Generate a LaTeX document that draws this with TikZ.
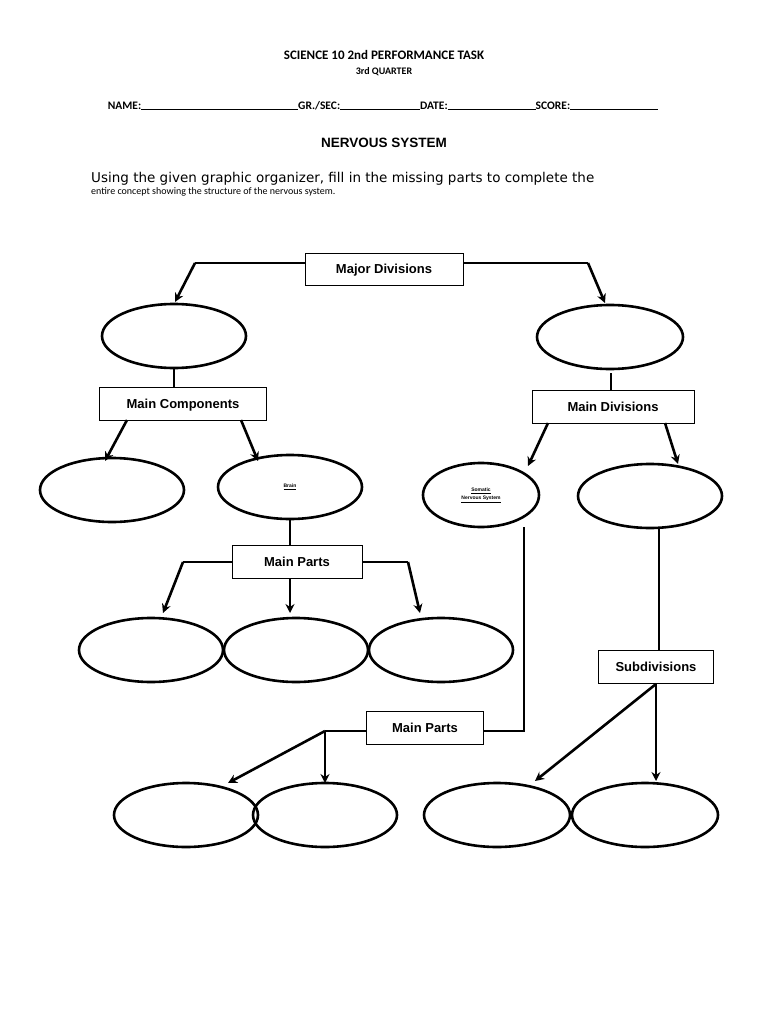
\documentclass[tikz,border=0pt]{standalone}
\usepackage{fontspec}
\setmainfont{Carlito}
\newfontfamily\dv{DejaVu Sans}
\newfontfamily\ls{Liberation Sans}
\usetikzlibrary{shapes.geometric,arrows.meta}
\begin{document}
\begin{tikzpicture}[x=1pt,y=-1pt,
 ov/.style={draw,ellipse,line width=2.6pt,minimum width=144pt,minimum height=64pt,inner sep=0pt,font=\ls\bfseries\tiny,align=center},
 bx/.style={draw,line width=0.6pt,font=\ls\bfseries\fontsize{13}{15}\selectfont,inner sep=0pt,text depth=0pt},
 ln/.style={line width=2.6pt},
 ar/.style={line width=2.6pt,-{Stealth[length=9pt,width=9pt]}}]
\useasboundingbox (0,0) rectangle (768,1024);
\node (t1) at (384,55) {\bfseries\fontsize{13}{15}\selectfont SCIENCE 10 2nd PERFORMANCE TASK};
\node (t2) at (384,72) {\bfseries\fontsize{10}{12}\selectfont 3rd QUARTER};
\node (t3) at (383,106) {\bfseries\fontsize{11.5}{13}\selectfont NAME:\rule{157pt}{0.5pt}GR./SEC:\rule{80pt}{0.5pt}DATE:\rule{88pt}{0.5pt}SCORE:\rule{88pt}{0.5pt}};
\node (t4) at (384,143) {\ls\bfseries\fontsize{13.5}{16}\selectfont NERVOUS SYSTEM};
\node[anchor=north west,align=left,inner sep=0pt] (t5) at (91,172) {\dv\fontsize{13.5}{19.5}\selectfont Using the given graphic organizer, fill in the missing parts to complete the\\ entire concept showing the structure of the nervous system.};

\node[bx,minimum width=158pt,minimum height=32pt] (md) at (384,269) {Major Divisions};
\node[ov] (l1) at (174,336) {};
\node[ov,minimum width=146pt] (r1) at (610,337) {};
\coordinate (mdl) at (195,263); \coordinate (mdr) at (588,263);
\draw[ln] (md.west|-mdl) -- (mdl);
\draw[ar] (mdl) -- (175,302);
\draw[ln] (md.east|-mdr) -- (mdr);
\draw[ar] (mdr) -- (605,303);

\node[bx,minimum width=167pt,minimum height=33pt] (mc) at (183,404) {Main Components};
\draw[ln] (174,368) -- (174,387.5);
\node[ov] (l2a) at (112,490) {};
\node[ov] (brain) at (290,487) {\underline{Brain}};
\draw[ar] (127,420) -- (105,461);
\draw[ar] (241,420) -- (258,461);

\node[bx,minimum width=162pt,minimum height=33pt] (mdv) at (613,407) {Main Divisions};
\draw[ln] (611,373) -- (611,390.5);
\node[ov,minimum width=116pt] (som) at (481,495) {\underline{Somatic}\\[2pt]\underline{Nervous System}};
\node[ov] (r2b) at (650,496) {};
\draw[ar] (548,423) -- (528,466);
\draw[ar] (665,423) -- (678,464);

\node[bx,minimum width=130pt,minimum height=33pt] (mp1) at (297,562) {Main Parts};
\draw[ln] (290,520) -- (290,545.5);
\coordinate (p1l) at (183,562); \coordinate (p1r) at (408,562);
\draw[ln] (mp1.west) -- (p1l); \draw[ar] (p1l) -- (163,613);
\draw[ar] (290,578.5) -- (290,613);
\draw[ln] (mp1.east) -- (p1r); \draw[ar] (p1r) -- (420,613);
\node[ov] (c1) at (151,650) {};
\node[ov] (c2) at (296,650) {};
\node[ov] (c3) at (441,650) {};

\node[bx,minimum width=117pt,minimum height=33pt] (mp2) at (425,728) {Main Parts};
\coordinate (sv) at (524,731); \coordinate (sp) at (325,731);
\draw[ln] (524,527) -- (sv) -- (mp2.east|-sv);
\draw[ln] (mp2.west|-sp) -- (sp);
\draw[ar] (sp) -- (228,783);
\draw[ar] (sp) -- (325,783);

\node[bx,minimum width=115pt,minimum height=33pt] (sub) at (656,667) {Subdivisions};
\draw[ln] (659,528) -- (659,650.5);
\draw[ar] (656,684) -- (535,781);
\draw[ar] (656,684) -- (656,781);

\node[ov] (d1) at (186,815) {};
\node[ov] (d2) at (325,815) {};
\node[ov,minimum width=146pt] (d3) at (497,815) {};
\node[ov,minimum width=146pt] (d4) at (645,815) {};
\end{tikzpicture}
\end{document}
